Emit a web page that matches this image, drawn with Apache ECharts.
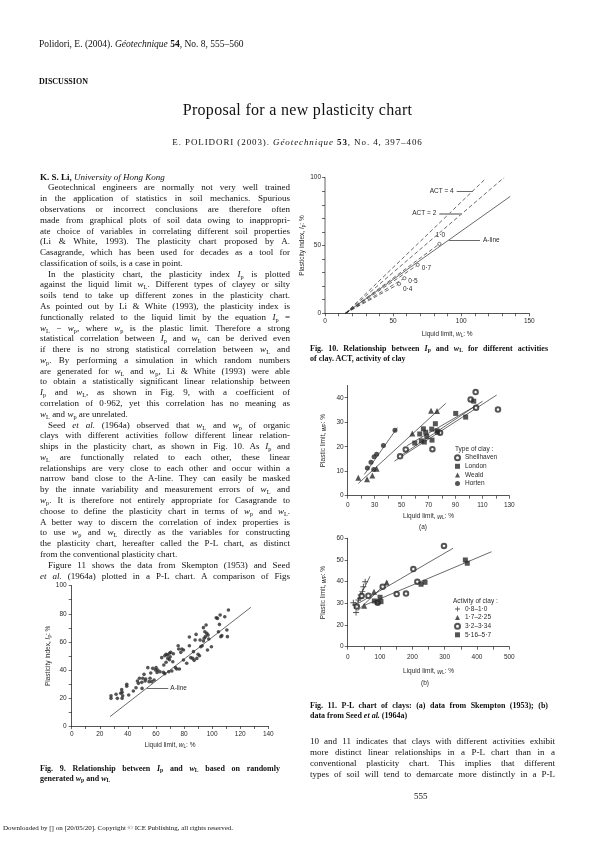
<!DOCTYPE html>
<html>
<head>
<meta charset="utf-8">
<title>Proposal for a new plasticity chart</title>
<script src="https://cdn.jsdelivr.net/npm/echarts@6.0.0/dist/echarts.min.js"></script>
<style>
html, body { margin: 0; padding: 0; background: #fff; }
#page { position: relative; width: 595px; height: 842px; overflow: hidden; }
#chart { position: absolute; left: 0; top: 0; width: 595px; height: 842px; }
.t { position: absolute; font-family: 'Liberation Serif', 'Times New Roman', serif; color: #111; white-space: nowrap; z-index: 2; }
.col div { text-align: justify; text-align-last: justify; white-space: nowrap; }
.col div.e { text-align-last: left; }
.col div.in { text-indent: 8px; }
sub { font-size: 70%; vertical-align: -0.25em; line-height: 0; }
</style>
</head>
<body>
<div id="page">
<div id="chart"></div>

<div class="t" style="left:39px;top:39.3px;font-size:9.5px;line-height:11.4px;">Polidori, E. (2004). <i>Géotechnique</i> <b>54</b>, No. 8, 555–560</div>
<div class="t" style="left:39px;top:77.2px;font-size:8px;line-height:9.6px;font-weight:bold;">DISCUSSION</div>
<div class="t" style="left:0;width:595px;text-align:center;top:100.4px;font-size:16px;line-height:19.2px;letter-spacing:0.3px;">Proposal for a new plasticity chart</div>
<div class="t" style="left:0;width:595px;text-align:center;top:136.6px;font-size:9px;line-height:10.8px;letter-spacing:0.9px;">E. POLIDORI (2003). <i>Géotechnique</i> <b>53</b>, No. 4, 397–406</div>

<div class="t col" style="left:40px;top:171.6px;width:250px;font-size:9px;line-height:10.78px;">
<div class="e"><b>K. S. Li,</b> <i>University of Hong Kong</i></div>
<div class="in">Geotechnical engineers are normally not very well trained</div>
<div>in the application of statistics in soil mechanics. Spurious</div>
<div>observations or incorrect conclusions are therefore often</div>
<div>made from graphical plots of soil data owing to inappropri-</div>
<div>ate choice of variables in correlating different soil properties</div>
<div>(Li &amp; White, 1993). The plasticity chart proposed by A.</div>
<div>Casagrande, which has been used for decades as a tool for</div>
<div class="e">classification of soils, is a case in point.</div>
<div class="in">In the plasticity chart, the plasticity index <i>I</i><sub>p</sub> is plotted</div>
<div>against the liquid limit <i>w</i><sub>L</sub>. Different types of clayey or silty</div>
<div>soils tend to take up different zones in the plasticity chart.</div>
<div>As pointed out by Li &amp; White (1993), the plasticity index is</div>
<div>functionally related to the liquid limit by the equation <i>I</i><sub>p</sub> =</div>
<div><i>w</i><sub>L</sub> − <i>w</i><sub>p</sub>, where <i>w</i><sub>p</sub> is the plastic limit. Therefore a strong</div>
<div>statistical correlation between <i>I</i><sub>p</sub> and <i>w</i><sub>L</sub> can be derived even</div>
<div>if there is no strong statistical correlation between <i>w</i><sub>L</sub> and</div>
<div><i>w</i><sub>p</sub>. By performing a simulation in which random numbers</div>
<div>are generated for <i>w</i><sub>L</sub> and <i>w</i><sub>p</sub>, Li &amp; White (1993) were able</div>
<div>to obtain a statistically significant linear relationship between</div>
<div><i>I</i><sub>p</sub> and <i>w</i><sub>L</sub>, as shown in Fig. 9, with a coefficient of</div>
<div>correlation of 0·962, yet this correlation has no meaning as</div>
<div class="e"><i>w</i><sub>L</sub> and <i>w</i><sub>p</sub> are unrelated.</div>
<div class="in">Seed <i>et al.</i> (1964a) observed that <i>w</i><sub>L</sub> and <i>w</i><sub>p</sub> of organic</div>
<div>clays with different activities follow different linear relation-</div>
<div>ships in the plasticity chart, as shown in Fig. 10. As <i>I</i><sub>p</sub> and</div>
<div><i>w</i><sub>L</sub> are functionally related to each other, these linear</div>
<div>relationships are very close to each other and occur within a</div>
<div>narrow band close to the A-line. They can easily be masked</div>
<div>by the innate variability and measurement errors of <i>w</i><sub>L</sub> and</div>
<div><i>w</i><sub>p</sub>. It is therefore not entirely appropriate for Casagrande to</div>
<div>choose to define the plasticity chart in terms of <i>w</i><sub>p</sub> and <i>w</i><sub>L</sub>.</div>
<div>A better way to discern the correlation of index properties is</div>
<div>to use <i>w</i><sub>p</sub> and <i>w</i><sub>L</sub> directly as the variables for constructing</div>
<div>the plasticity chart, hereafter called the P-L chart, as distinct</div>
<div class="e">from the conventional plasticity chart.</div>
<div class="in">Figure 11 shows the data from Skempton (1953) and Seed</div>
<div><i>et al.</i> (1964a) plotted in a P-L chart. A comparison of Figs</div>
</div>

<div class="t col" style="left:40px;top:763.6px;width:240px;font-size:8px;line-height:10.4px;font-weight:bold;">
<div>Fig. 9. Relationship between <i>I</i><sub>p</sub> and <i>w</i><sub>L</sub> based on randomly</div>
<div class="e">generated <i>w</i><sub>p</sub> and <i>w</i><sub>L</sub></div>
</div>

<div class="t col" style="left:310px;top:343.6px;width:238px;font-size:8px;line-height:10.8px;font-weight:bold;">
<div>Fig. 10. Relationship between <i>I</i><sub>p</sub> and <i>w</i><sub>L</sub> for different activities</div>
<div class="e">of clay. ACT, activity of clay</div>
</div>

<div class="t col" style="left:310px;top:700.6px;width:238px;font-size:8px;line-height:10.8px;font-weight:bold;">
<div>Fig. 11. P-L chart of clays: (a) data from Skempton (1953); (b)</div>
<div class="e">data from Seed <i>et al.</i> (1964a)</div>
</div>

<div class="t col" style="left:310px;top:735.6px;width:245px;font-size:9px;line-height:11px;">
<div>10 and 11 indicates that clays with different activities exhibit</div>
<div>more distinct linear relationships in a P-L chart than in a</div>
<div>conventional plasticity chart. This implies that different</div>
<div>types of soil will tend to demarcate more distinctly in a P-L</div>
</div>

<div class="t" style="left:414px;top:790.6px;font-size:9px;line-height:10.8px;">555</div>
<div class="t" style="left:3px;top:823.8px;font-size:7px;line-height:8.4px;">Downloaded by [] on [20/05/20]. Copyright © ICE Publishing, all rights reserved.</div>
</div>

<script>
// ---- Fig. 9: random wL / wp simulation (wL, Ip)
var fig9Points = [
	[28.0, 21.6], [28.0, 19.7], [31.6, 22.6], [32.5, 19.7], [34.9, 23.3], [35.6, 25.9], [35.9, 24.0], [36.3, 21.6],
	[35.9, 19.7], [39.2, 29.7], [39.2, 28.3], [40.6, 22.1], [43.9, 24.9], [45.8, 27.3], [46.8, 32.1], [47.5, 30.4],
	[48.2, 34.0], [49.9, 31.1], [50.6, 34.0], [50.1, 26.8], [51.5, 36.8], [52.3, 32.1], [52.7, 33.5], [54.2, 41.6],
	[55.1, 31.6], [55.8, 34.0], [56.3, 37.8], [57.0, 31.6], [57.7, 41.1], [58.7, 32.8], [59.6, 39.9], [60.1, 41.6],
	[60.8, 38.2], [61.3, 39.9], [62.9, 38.7], [64.1, 48.7], [65.3, 38.2], [65.6, 43.5], [66.3, 37.3], [66.3, 50.1],
	[67.2, 45.4], [67.2, 51.1], [68.2, 50.6], [68.4, 48.2], [69.1, 38.7], [69.6, 51.8], [69.6, 47.3], [70.1, 49.4],
	[70.5, 52.5], [71.3, 39.2], [72.0, 45.8], [72.4, 51.5], [73.9, 41.6], [74.8, 40.6], [75.8, 57.2], [76.2, 54.9],
	[76.7, 40.6], [77.7, 52.5], [78.4, 54.9], [79.6, 54.2], [79.6, 47.0], [81.9, 44.7], [83.8, 57.2], [83.8, 63.4],
	[84.8, 48.7], [86.2, 48.2], [86.7, 53.0], [87.2, 46.8], [87.9, 61.3], [88.6, 65.3], [89.1, 48.2], [90.0, 51.1],
	[91.0, 50.1], [91.4, 61.3], [91.9, 56.5], [92.9, 57.2], [93.8, 70.1], [93.8, 60.6], [94.3, 62.5], [94.8, 67.2],
	[95.2, 63.7], [95.7, 72.0], [96.2, 66.0], [96.7, 54.2], [97.1, 64.8], [97.6, 62.0], [99.5, 56.5], [102.9, 77.2],
	[103.8, 76.7], [104.5, 67.2], [105.2, 72.4], [105.7, 79.1], [106.2, 63.7], [106.9, 64.4], [109.0, 77.9],
	[110.5, 68.4], [110.9, 63.7], [111.6, 82.7]
];
var fig9ALine = [[27.3, 6.7], [127.6, 84.6]];
var fig9Callout = [[68.8, 26.6], [53.6, 26.6]];
var fig9XLabels = [0, 20, 40, 60, 80, 100, 120, 140];
var fig9XTicks = [0, 10, 20, 30, 40, 50, 60, 70, 80, 90, 100, 110, 120, 130, 140];
var fig9YLabels = [0, 20, 40, 60, 80, 100];
var fig9YTicks = [0, 10, 20, 30, 40, 50, 60, 70, 80, 90, 100];

// ---- Fig. 10: activity lines (wL, Ip)
var fig10Act4 = [[15, 0], [117.6, 99.0]];
var fig10Act2 = [[15, 0], [131.6, 100.2]];
var fig10Act10 = [[15, 0], [84.0, 51.2]];
var fig10ALine = [[15, 0], [136.0, 86.2]];
var fig10Act07 = [[15, 0], [68.1, 35.7]];
var fig10Act05 = [[15, 0], [58.3, 25.9]];
var fig10Act04 = [[15, 0], [54.4, 21.7]];
var fig10EndText = ['', '', '1·0', '', '0·7', '0·5', '0·4'];
var fig10Callouts = ['ACT = 4', 'ACT = 2', 'A-line'];
var fig10CalloutFrom = [[96.7, 90.2], [83.9, 73.7], [113.8, 54.1]];
var fig10CalloutTo = [[108.3, 90.2], [100.6, 73.7], [91.0, 54.1]];
var fig10XLabels = [0, 50, 100, 150];
var fig10XTicks = [0, 10, 20, 30, 40, 50, 60, 70, 80, 90, 100, 110, 120, 130, 140, 150];
var fig10YLabels = [0, 50, 100];
var fig10YTicks = [0, 10, 20, 30, 40, 50, 60, 70, 80, 90, 100];

// ---- Fig. 11(a): Skempton (1953) (wL, wp)
var shellhaven = [[53.1, 18.9], [48.9, 16.1], [72.9, 19.0], [78.6, 25.7], [101.3, 39.3], [105.0, 42.3], [105.3, 35.9], [121.6, 35.2]];
var london = [[59.8, 21.5], [63.5, 25.2], [64.7, 22.4], [66.2, 27.3], [66.9, 21.9], [67.9, 25.9], [68.7, 24.2], [72.4, 27.2],
	[72.6, 22.7], [75.1, 29.4], [76.3, 26.5], [76.8, 25.9], [90.2, 33.6], [97.6, 32.1], [103.6, 38.6]];
var weald = [[17.9, 7.3], [24.4, 6.7], [28.3, 8.2], [31.5, 11.0], [58.0, 25.4], [71.9, 34.7], [76.3, 34.6]];
var horten = [[24.6, 11.3], [27.3, 13.7], [29.6, 15.9], [31.5, 16.9], [36.5, 20.5], [45.1, 26.7], [29.3, 10.7]];
var hortenFit = [[22.4, 8.7], [46.9, 27.8]];
var wealdFit = [[17.9, 5.0], [82.8, 37.7]];
var shellhavenFit = [[44.7, 14.1], [120.6, 41.1]];
var londonFit = [[50.0, 16.6], [110.2, 38.6]];
var londonFit2 = [[54.0, 20.4], [106.0, 37.0]];
var fig11aXLabelValues = [10, 30, 50, 70, 90, 110, 130];
var fig11aXLabelText = ['0', '30', '50', '70', '90', '110', '130'];
var fig11aXTicks = [10, 20, 30, 40, 50, 60, 70, 80, 90, 100, 110, 120, 130];
var fig11aYLabels = [0, 10, 20, 30, 40];

// ---- Fig. 11(b): Seed et al. (1964a) (wL, wp)
var act0810 = [[17.5, 30.3], [22.7, 29.2], [25.8, 25.8], [28.0, 28.8], [33.0, 31.5], [38.1, 32.3], [40.2, 33.8], [45.3, 35.4], [48.5, 37.7], [54.0, 40.0]];
var act17225 = [[51.0, 28.9], [81.4, 35.3], [120.7, 39.6]];
var act32334 = [[28.0, 28.5], [43.3, 33.4], [64.0, 33.5], [92.8, 30.3], [108.2, 37.7], [151.5, 34.3], [180.4, 34.5], [203.1, 45.8], [215.5, 40.0], [297.9, 56.5]];
var act51657 = [[82.4, 31.1], [91.7, 30.5], [100.0, 32.8], [103.0, 30.8], [227.0, 38.8], [239.3, 39.7], [364.0, 50.0], [370.0, 48.5]];
var act0810Fit = [[20, 27.5], [69, 42.5]];
var act17225Fit = [[30, 26.5], [125, 40.2]];
var act32334Fit = [[33, 30.0], [326, 55.4]];
var act51657Fit = [[53.6, 29.2], [445, 53.8]];
var fig11bXLabels = [0, 100, 200, 300, 400, 500];
var fig11bXTicks = [0, 50, 100, 150, 200, 250, 300, 350, 400, 450, 500];
var fig11bYLabelValues = [10, 20, 30, 40, 50, 60];
var fig11bYLabelText = ['0', '20', '30', '40', '50', '60'];

var ink = '#2a2a2a';
var sans = "'Liberation Sans Narrow', 'Liberation Sans', Arial, sans-serif";
var fs = 6.5;

var nameRich = {
	n : { fontSize : fs, fontFamily : sans, color : ink },
	i : { fontSize : fs, fontFamily : sans, color : ink, fontStyle : 'italic' },
	s : { fontSize : 4.6, fontFamily : sans, color : ink, padding : [ 3, 0, 0, 0 ] }
};

function axis(grid, min, max, ticks, labelValues, labelText, name, gap, margin) {
	return {
		type : 'value',
		gridIndex : grid,
		min : min,
		max : max,
		name : name,
		nameLocation : 'middle',
		nameGap : gap,
		nameTextStyle : { fontSize : fs, fontFamily : sans, color : ink, rich : nameRich },
		axisLine : { show : true, onZero : false, lineStyle : { color : ink, width : 0.8 } },
		axisTick : { show : true, length : 3, customValues : ticks, lineStyle : { color : ink, width : 0.7 } },
		axisLabel : {
			fontSize : fs, fontFamily : sans, color : ink, margin : margin,
			customValues : labelValues,
			formatter : function(v) {
				var k = labelValues.indexOf(v);
				if (k < 0) return '';
				return labelText ? labelText[k] : String(v);
			}
		},
		splitLine : { show : false }
	};
}

function fitLine(data, xi) {
	return {
		type : 'line', xAxisIndex : xi, yAxisIndex : xi, data : data,
		symbol : 'none', silent : true, z : 1,
		lineStyle : { color : ink, width : 0.7 }
	};
}

function scatter(name, data, xi, symbol, size, empty) {
	return {
		name : name, type : 'scatter', xAxisIndex : xi, yAxisIndex : xi, data : data,
		symbol : symbol, symbolSize : size, silent : true, z : 3,
		itemStyle : empty ? { color : ink, borderColor : ink, borderWidth : 1.3 } : { color : ink }
	};
}

var wName = '{n|Liquid limit, }{i|w}{s|L}{n|: %}';
var ipName = '{n|Plasticity index, }{i|I}{s|p}{n|: %}';
var wpName = '{n|Plastic limit, }{i|w}{s|P}{n|: %}';
var crossPath = 'path://M0,4.2H10V5.8H0Z M4.2,0H5.8V10H4.2Z';

var xAxes = [
	axis(0, 0, 150, fig10XTicks, fig10XLabels, null, wName, 17, 4),
	axis(1, 10, 130, fig11aXTicks, fig11aXLabelValues, fig11aXLabelText, wName, 17, 6),
	axis(2, 0, 500, fig11bXTicks, fig11bXLabels, null, wName, 21, 7),
	axis(3, 0, 140, fig9XTicks, fig9XLabels, null, wName, 15, 5)
];
xAxes[0].nameTextStyle.padding = [ 0, 0, 0, 40 ];
var yAxes = [
	axis(0, 0, 100, fig10YTicks, fig10YLabels, null, ipName, 17, 4),
	axis(1, 0, 45, fig11aYLabels, fig11aYLabels, null, wpName, 20, 4),
	axis(2, 10, 60, fig11bYLabelValues, fig11bYLabelValues, fig11bYLabelText, wpName, 20, 4),
	axis(3, 0, 100, fig9YTicks, fig9YLabels, null, ipName, 16, 5)
];
yAxes[0].axisLine.lineStyle = { color : '#b0b0b0', width : 2 };

var series = [];

// Fig. 10
var fig10Lines = [ fig10Act4, fig10Act2, fig10Act10, fig10ALine, fig10Act07, fig10Act05, fig10Act04 ];
var fig10Pos = [ 'top', 'top', 'top', 'top', 'right', 'right', 'right' ];
var fig10Off = [ [0, 0], [0, 0], [1, -1], [0, 0], [0, 3], [0, 3], [0, 5] ];
for (var i = 0; i < fig10Lines.length; i++) {
	var ln = fig10Lines[i];
	var hasEnd = i !== 0 && i !== 3;
	var end = { value : ln[1], symbol : hasEnd ? 'circle' : 'none', symbolSize : 3.2 };
	if (fig10EndText[i]) {
		end.label = { show : true, formatter : fig10EndText[i], position : fig10Pos[i], distance : 2,
			offset : fig10Off[i], fontSize : fs, fontFamily : sans, color : ink };
	}
	series.push({
		type : 'line', xAxisIndex : 0, yAxisIndex : 0, silent : true,
		symbol : 'circle', showSymbol : true,
		data : [ { value : ln[0], symbol : 'none' }, end ],
		itemStyle : { color : '#fff', borderColor : ink, borderWidth : 0.6 },
		lineStyle : { color : ink, width : 0.7, type : i === 3 ? 'solid' : [ 4, 2.5 ] }
	});
}
var calloutData = [];
for (var c = 0; c < fig10Callouts.length; c++) {
	calloutData.push([ {
		coord : fig10CalloutFrom[c],
		label : { show : true, position : 'start', formatter : fig10Callouts[c], distance : 3,
			fontSize : fs, fontFamily : sans, color : ink },
		lineStyle : c === 1 ? { color : '#9a9a9a', width : 1.8, type : 'solid' } : { color : ink, width : 0.7, type : 'solid' }
	}, { coord : fig10CalloutTo[c] } ]);
}
series[3].markLine = {
	silent : true, symbol : [ 'none', 'arrow' ], symbolSize : [ 0, 4 ],
	itemStyle : { color : ink },
	data : calloutData
};

// Fig. 11(a)
series.push(fitLine(hortenFit, 1), fitLine(wealdFit, 1), fitLine(shellhavenFit, 1), fitLine(londonFit, 1), fitLine(londonFit2, 1));
series.push(scatter('Shellhaven', shellhaven, 1, 'emptyCircle', 4.5, true));
series.push(scatter('London', london, 1, 'rect', 5, false));
series.push(scatter('Weald', weald, 1, 'triangle', 6, false));
series.push(scatter('Horten', horten, 1, 'circle', 5, false));

// Fig. 11(b)
series.push(fitLine(act0810Fit, 2), fitLine(act17225Fit, 2), fitLine(act32334Fit, 2), fitLine(act51657Fit, 2));
series.push(scatter('0·8–1·0', act0810, 2, crossPath, 6, false));
series.push(scatter('1·7–2·25', act17225, 2, 'triangle', 6, false));
series.push(scatter('3·2–3·34', act32334, 2, 'emptyCircle', 4.5, true));
series.push(scatter('5·16–5·7', act51657, 2, 'rect', 5, false));

// Fig. 9
var f9Line = fitLine(fig9ALine, 3);
f9Line.markLine = {
	silent : true, symbol : [ 'none', 'none' ],
	data : [ [ {
		coord : fig9Callout[0],
		label : { show : true, position : 'start', formatter : 'A-line', distance : 2,
			fontSize : fs, fontFamily : sans, color : ink },
		lineStyle : { color : ink, width : 0.7, type : 'solid' }
	}, { coord : fig9Callout[1] } ] ]
};
series.push(f9Line);
series.push(scatter('fig9', fig9Points, 3, 'circle', 3.6, false));

function legend(names, top) {
	return {
		data : names, orient : 'vertical', left : 454, top : top, padding : 0,
		itemWidth : 5, itemHeight : 5, itemGap : 0, selectedMode : false,
		textStyle : { fontSize : fs, fontFamily : sans, color : ink, lineHeight : 8.6 }
	};
}

function note(text, x, y, align) {
	return { type : 'text', x : x, y : y, silent : true,
		style : { text : text, fill : ink, fontSize : fs, fontFamily : sans, align : align || 'left', verticalAlign : 'middle' } };
}

var chart = echarts.init(document.getElementById('chart'));
chart.setOption({
	animation : false,
	textStyle : { fontFamily : sans },
	grid : [
		{ left : 325, top : 177.7, width : 204.3, height : 135.6 },
		{ left : 347.7, top : 385.5, width : 161.6, height : 110.2 },
		{ left : 347.7, top : 538.3, width : 161.6, height : 108.4 },
		{ left : 71.7, top : 585.7, width : 196.6, height : 140.3 }
	],
	xAxis : xAxes,
	yAxis : yAxes,
	legend : [
		legend([ 'Shellhaven', 'London', 'Weald', 'Horten' ], 453.4),
		legend([ '0·8–1·0', '1·7–2·25', '3·2–3·34', '5·16–5·7' ], 604.7)
	],
	graphic : [
		note('Type of clay :', 455, 449.3),
		note('Activity of clay :', 453, 601),
		note('(a)', 423, 527, 'center'),
		note('(b)', 425, 683.5, 'center')
	],
	series : series
});
window.onresize = chart.resize;
</script>
</body>
</html>
